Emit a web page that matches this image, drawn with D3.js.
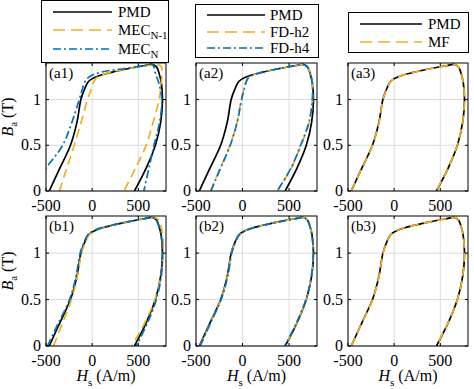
<!DOCTYPE html>
<html>
<head>
<meta charset="utf-8">
<script src="https://cdn.jsdelivr.net/npm/d3@7"></script>
<style>
  body { margin: 0; background: #fff; }
  svg { font-family: "Liberation Serif", "Times New Roman", serif; }
</style>
</head>
<body>
<div id="chart"></div>
<script>
// data: B along the rising branch and the falling branch
const bRise = [0, 0.25, 0.5, 0.75, 1.0, 1.1, 1.2, 1.25, 1.3, 1.34, 1.37, 1.385];
const bFall = [1.385, 1.36, 1.27, 1.19, 1.0, 0.75, 0.5, 0.25, 0];

// H (A/m) values, same order as bRise / bFall
const pmdRise = [-465, -350, -235, -165, -122, -88, -38, 45, 220, 400, 560, 650];
const pmdFall = [650, 695, 730, 748, 762, 742, 685, 585, 458];

// (a1) MEC
const mecN1aRise = [-355, -275, -194, -120, -50, -15, 20, 60, 200, 400, 580, 700];
const mecN1aFall = [700, 750, 755, 750, 725, 660, 585, 470, 345];
const mecNaRise = [-680, -500, -320, -220, -140, -110, -75, -30, 100, 350, 560, 650];
const mecNaFall = [650, 668, 690, 720, 755, 730, 670, 615, 560];

// (a2) FD
const fdh2aRise = [-344, -240, -135, -60, -14, 10, 38, 70, 210, 400, 560, 650];
const fdh2aFall = [650, 695, 735, 750, 752, 715, 628, 524, 375];
const fdh4aRise = [-340, -236, -132, -58, -10, 14, 42, 75, 215, 402, 562, 650];
const fdh4aFall = [650, 694, 733, 748, 750, 712, 624, 520, 372];

// (b1) MEC
const mecN1bRise = [-420, -320, -225, -160, -115, -80, -30, 40, 220, 410, 570, 670];
const mecN1bFall = [680, 720, 750, 765, 770, 745, 680, 570, 430];
const mecNbRise = [-485, -365, -245, -175, -130, -95, -45, 30, 210, 395, 555, 650];
const mecNbFall = [650, 690, 728, 748, 762, 748, 695, 600, 478];

// (b2) FD
const fdh2bRise = [-458, -345, -232, -162, -118, -85, -35, 48, 222, 402, 562, 650];
const fdh2bFall = [650, 694, 728, 746, 760, 740, 682, 582, 455];
const fdh4bRise = [-455, -343, -230, -160, -116, -83, -33, 50, 224, 403, 562, 650];
const fdh4bFall = [650, 694, 728, 746, 759, 739, 681, 580, 453];

// (a3)/(b3) MF
const mfRise = [-464, -349, -234, -164, -121, -87, -37, 46, 221, 401, 561, 650];
const mfFall = [650, 695, 730, 748, 761, 741, 684, 584, 457];

const xTicks = [-500, 0, 500];
const yTicks = [0, 0.5, 1];

const colors = { pmd: "#000000", orange: "#EDB120", blue: "#0072BD" };

function loop(rise, fall) {
  const pts = rise.map((h, i) => [h, bRise[i]]);
  fall.slice(1).forEach((h, i) => pts.push([h, bFall[i + 1]]));
  return pts;
}

const panels = [
  { id: "a1", col: 0, row: 0, series: [
    { pts: loop(pmdRise, pmdFall), color: colors.pmd, dash: null },
    { pts: loop(mecN1aRise, mecN1aFall), color: colors.orange, dash: "9,5" },
    { pts: loop(mecNaRise, mecNaFall), color: colors.blue, dash: "8,3,2,3" }] },
  { id: "a2", col: 1, row: 0, series: [
    { pts: loop(pmdRise, pmdFall), color: colors.pmd, dash: null },
    { pts: loop(fdh2aRise, fdh2aFall), color: colors.orange, dash: "9,5" },
    { pts: loop(fdh4aRise, fdh4aFall), color: colors.blue, dash: "8,3,2,3" }] },
  { id: "a3", col: 2, row: 0, series: [
    { pts: loop(pmdRise, pmdFall), color: colors.pmd, dash: null },
    { pts: loop(mfRise, mfFall), color: colors.orange, dash: "9,5" }] },
  { id: "b1", col: 0, row: 1, series: [
    { pts: loop(pmdRise, pmdFall), color: colors.pmd, dash: null },
    { pts: loop(mecN1bRise, mecN1bFall), color: colors.orange, dash: "9,5" },
    { pts: loop(mecNbRise, mecNbFall), color: colors.blue, dash: "8,3,2,3" }] },
  { id: "b2", col: 1, row: 1, series: [
    { pts: loop(pmdRise, pmdFall), color: colors.pmd, dash: null },
    { pts: loop(fdh2bRise, fdh2bFall), color: colors.orange, dash: "9,5" },
    { pts: loop(fdh4bRise, fdh4bFall), color: colors.blue, dash: "8,3,2,3" }] },
  { id: "b3", col: 2, row: 1, series: [
    { pts: loop(pmdRise, pmdFall), color: colors.pmd, dash: null },
    { pts: loop(mfRise, mfFall), color: colors.orange, dash: "9,5" }] },
];

const legends = [
  { x: 41, y: 0, w: 127, h: 62, lineX: [53, 112], textX: 118,
    items: [["PMD", null, colors.pmd, null, 12], ["MEC", "N-1", colors.orange, "12,6", 30], ["MEC", "N", colors.blue, "8,3,2,3", 49]] },
  { x: 195, y: 4, w: 123, h: 53, lineX: [207, 265], textX: 270,
    items: [["PMD", null, colors.pmd, null, 15], ["FD-h2", null, colors.orange, "12,6", 32], ["FD-h4", null, colors.blue, "8,3,2,3", 48]] },
  { x: 348, y: 12, w: 120, h: 40, lineX: [360, 422], textX: 428,
    items: [["PMD", null, colors.pmd, null, 24], ["MF", null, colors.orange, "12,6", 42]] },
];

const W = 474, H = 389;
const cols = [[46, 166], [196, 317], [348, 468]];
const rows = [[191, 63], [346, 216]];

const svg = d3.select("#chart").append("svg").attr("width", W).attr("height", H);
const fs = 15;

panels.forEach((p) => {
  const x = d3.scaleLinear().domain([-500, 800]).range(cols[p.col]);
  const y = d3.scaleLinear().domain([0, 1.4]).range(rows[p.row]);
  const g = svg.append("g");
  const [x0, x1] = x.range(), [y0, y1] = y.range();

  // grid
  g.selectAll(".gx").data(xTicks).enter().append("line")
    .attr("x1", (d) => x(d)).attr("x2", (d) => x(d)).attr("y1", y1).attr("y2", y0)
    .attr("stroke", "#dcdcdc").attr("stroke-width", 1);
  g.selectAll(".gy").data(yTicks).enter().append("line")
    .attr("y1", (d) => y(d)).attr("y2", (d) => y(d)).attr("x1", x0).attr("x2", x1)
    .attr("stroke", "#dcdcdc").attr("stroke-width", 1);

  // clip
  const cid = "clip-" + p.id;
  svg.append("clipPath").attr("id", cid).append("rect")
    .attr("x", x0).attr("y", y1).attr("width", x1 - x0).attr("height", y0 - y1);

  const line = d3.line().x((d) => x(d[0])).y((d) => y(d[1]))
    .curve(d3.curveCatmullRom.alpha(0.5));
  p.series.forEach((s) => {
    g.append("path").datum(s.pts)
      .attr("clip-path", `url(#${cid})`)
      .attr("fill", "none").attr("stroke", s.color).attr("stroke-width", 1.7)
      .attr("stroke-dasharray", s.dash).attr("d", line);
  });

  // box and inward ticks
  g.append("rect").attr("x", x0).attr("y", y1).attr("width", x1 - x0).attr("height", y0 - y1)
    .attr("fill", "none").attr("stroke", "#000").attr("stroke-width", 1);
  xTicks.forEach((t) => {
    g.append("line").attr("x1", x(t)).attr("x2", x(t)).attr("y1", y0).attr("y2", y0 - 3).attr("stroke", "#000");
    g.append("line").attr("x1", x(t)).attr("x2", x(t)).attr("y1", y1).attr("y2", y1 + 3).attr("stroke", "#000");
  });
  yTicks.forEach((t) => {
    g.append("line").attr("y1", y(t)).attr("y2", y(t)).attr("x1", x0).attr("x2", x0 + 3).attr("stroke", "#000");
    g.append("line").attr("y1", y(t)).attr("y2", y(t)).attr("x1", x1).attr("x2", x1 - 3).attr("stroke", "#000");
  });

  // tick labels
  g.selectAll(".xl").data(xTicks).enter().append("text")
    .attr("x", (d) => x(d)).attr("y", y0 + 20).attr("text-anchor", "middle")
    .style("font-size", "16px").text((d) => d);
  g.selectAll(".yl").data(yTicks).enter().append("text")
    .attr("x", x0 - 5).attr("y", (d) => y(d) + 5).attr("text-anchor", "end")
    .style("font-size", "16px").text((d) => d);

  // panel tag
  g.append("text").attr("x", x0 + 3).attr("y", y1 + 15)
    .style("font-size", fs + "px").text(`(${p.id})`);

  if (p.col === 0) {
    const cy = (y0 + y1) / 2 - 10;
    const t = g.append("text").attr("transform", `translate(13,${cy}) rotate(-90)`)
      .attr("text-anchor", "middle").style("font-size", "16px");
    t.append("tspan").style("font-style", "italic").text("B");
    t.append("tspan").attr("dy", 4).style("font-size", "11px").text("a");
    t.append("tspan").attr("dy", -4).text(" (T)");
  }
  if (p.row === 1) {
    const t = g.append("text").attr("x", (x0 + x1) / 2).attr("y", 381)
      .attr("text-anchor", "middle").style("font-size", "16px");
    t.append("tspan").style("font-style", "italic").text("H");
    t.append("tspan").attr("dy", 5).style("font-size", "11px").text("s");
    t.append("tspan").attr("dy", -5).text(" (A/m)");
  }
});

// legends
legends.forEach((L) => {
  const g = svg.append("g");
  g.append("rect").attr("x", L.x + 0.5).attr("y", L.y + 0.5).attr("width", L.w).attr("height", L.h)
    .attr("fill", "#fff").attr("stroke", "#000").attr("stroke-width", 1);
  L.items.forEach(([name, sub, color, dash, yy]) => {
    g.append("line").attr("x1", L.lineX[0]).attr("x2", L.lineX[1]).attr("y1", yy).attr("y2", yy)
      .attr("stroke", color).attr("stroke-width", 1.7).attr("stroke-dasharray", dash);
    const t = g.append("text").attr("x", L.textX).attr("y", yy + 5).style("font-size", fs + "px");
    t.append("tspan").text(name);
    if (sub) t.append("tspan").attr("dy", 4).style("font-size", "11px").text(sub);
  });
});
</script>
</body>
</html>
